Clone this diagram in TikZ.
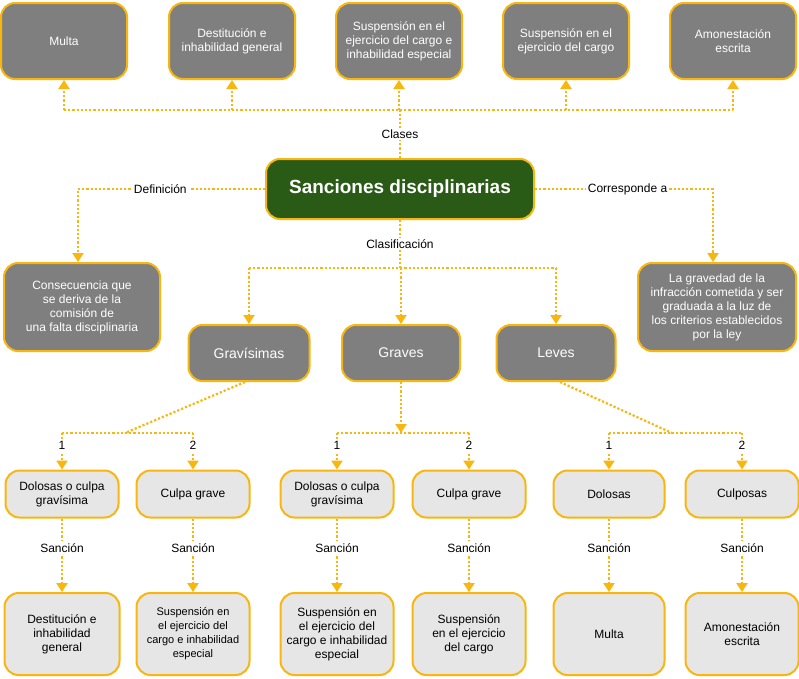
\documentclass[tikz,border=0pt]{standalone}
\usepackage{fontspec}
\setmainfont{Liberation Sans}
\usetikzlibrary{arrows.meta}
\usetikzlibrary{calc}
\definecolor{borde}{HTML}{F8B60E}
\definecolor{gris}{HTML}{7F7F7F}
\definecolor{claro}{HTML}{E6E6E6}
\definecolor{verde}{HTML}{295B17}
\tikzset{
  caja/.style={draw=borde,line width=2pt,rounded corners=14pt,align=center,inner sep=2pt},
  oscura/.style={caja,fill=gris,text=white,font=\fontsize{12}{14}\selectfont},
  clara/.style={caja,fill=claro,text=black,font=\fontsize{12}{14}\selectfont},
  enlace/.style={draw=borde,line width=2.2pt,dotted},
  flecha/.style={enlace,-{Triangle[length=9pt,width=11pt,fill=borde]}},
  etiqueta/.style={fill=white,inner sep=2pt,font=\fontsize{12}{14}\selectfont}
}
\begin{document}
\begin{tikzpicture}[x=1pt,y=-1pt]
    \useasboundingbox (0,0) rectangle (799,678);
    % clases
    \node[oscura,minimum width=126,minimum height=76] (multa) at (64,41) {Multa};
    \node[oscura,minimum width=126,minimum height=76] (destit) at (232,41) {Destitución e\\inhabilidad general};
    \node[oscura,minimum width=126,minimum height=76] (suspesp) at (399,41) {Suspensión en el\\ejercicio del cargo e\\inhabilidad especial};
    \node[oscura,minimum width=126,minimum height=76] (susp) at (566,41) {Suspensión en el\\ejercicio del cargo};
    \node[oscura,minimum width=126,minimum height=76] (amon) at (733,41) {Amonestación\\escrita};

    \node[caja,fill=verde,text=white,font=\fontsize{19}{22}\bfseries,minimum width=268,minimum height=60] (sanc) at (400,189) {Sanciones disciplinarias};

    \node[oscura,minimum width=156,minimum height=88] (conse) at (82,307) {Consecuencia que\\se deriva de la\\comisión de\\una falta disciplinaria};
    \node[oscura,minimum width=158,minimum height=88] (grav) at (717,307) {La gravedad de la\\infracción cometida y ser\\graduada a la luz de\\los criterios establecidos\\por la ley};

    \node[oscura,font=\fontsize{14}{16}\selectfont,minimum width=121,minimum height=56] (gravis) at (249,353) {Gravísimas};
    \node[oscura,font=\fontsize{14}{16}\selectfont,minimum width=118,minimum height=56] (graves) at (401,353) {Graves};
    \node[oscura,font=\fontsize{14}{16}\selectfont,minimum width=119,minimum height=56] (leves) at (556,353) {Leves};

    % nivel 3
    \node[clara,minimum width=113,minimum height=47] (a1) at (62,494) {Dolosas o culpa\\gravísima};
    \node[clara,minimum width=113,minimum height=47] (a2) at (193,494) {Culpa grave};
    \node[clara,minimum width=113,minimum height=47] (b1) at (337,494) {Dolosas o culpa\\gravísima};
    \node[clara,minimum width=113,minimum height=47] (b2) at (469,494) {Culpa grave};
    \node[clara,minimum width=111,minimum height=47] (c1) at (609,494) {Dolosas};
    \node[clara,minimum width=113,minimum height=47] (c2) at (742,494) {Culposas};

    % sanciones
    \node[clara,minimum width=115,minimum height=82] (s1) at (62,634) {Destitución e\\inhabilidad\\general};
    \node[clara,minimum width=113,minimum height=82] (s2) at (193,634) {\fontsize{11}{13}\selectfont Suspensión en\\\fontsize{11}{13}\selectfont el ejercicio del\\\fontsize{11}{13}\selectfont cargo e inhabilidad\\\fontsize{11}{13}\selectfont especial};
    \node[clara,minimum width=113,minimum height=82] (s3) at (337,634) {Suspensión en\\el ejercicio del\\cargo e inhabilidad\\especial};
    \node[clara,minimum width=113,minimum height=82] (s4) at (469,634) {Suspensión\\en el ejercicio\\del cargo};
    \node[clara,minimum width=111,minimum height=82] (s5) at (609,634) {Multa};
    \node[clara,minimum width=113,minimum height=82] (s6) at (742,634) {Amonestación\\escrita};

    % conexiones
    \coordinate (top) at (400,110);
    \draw[enlace] (sanc.north) -- node[etiqueta]{Clases} (top);
    \draw[enlace] (multa.south |- top) -- (amon.south |- top);
    \foreach \n in {multa,destit,suspesp,susp,amon}
        \draw[flecha] (\n.south |- top) -- (\n.south);

    \coordinate (izq) at (78,189);
    \coordinate (der) at (713,189);
    \draw[flecha] (sanc.west) -- node[etiqueta,pos=0.56]{Definición} (izq) -- (conse.north -| izq);
    \draw[flecha] (sanc.east) -- node[etiqueta,pos=0.52]{Corresponde a} (der) -- (grav.north -| der);

    \coordinate (clas) at (400,268);
    \draw[enlace] (sanc.south) -- node[etiqueta]{Clasificación} (clas);
    \draw[enlace] (gravis.north |- clas) -- (leves.north |- clas);
    \foreach \n in {gravis,graves,leves}
        \draw[flecha] (\n.north |- clas) -- (\n.north);

    \coordinate (ra) at (125,433);
    \coordinate (rb) at (401,433);
    \coordinate (rc) at (672,433);
    \draw[enlace] (245,382) -- (ra);
    \draw[flecha] (graves.south) -- (rb);
    \draw[enlace] (560,382) -- (rc);
    \foreach \x/\y in {a1/a2,b1/b2,c1/c2} {
        \draw[enlace] (\x.north |- ra) -- (\y.north |- ra);
        \draw[flecha] (\x.north |- ra) -- node[etiqueta,pos=0.35]{1} (\x.north);
        \draw[flecha] (\y.north |- ra) -- node[etiqueta,pos=0.35]{2} (\y.north);
    }
    \foreach \x/\y in {a1/s1,a2/s2,b1/s3,b2/s4,c1/s5,c2/s6}
        \draw[flecha] (\x.south) -- node[etiqueta,pos=0.4]{Sanción} (\y.north);
\end{tikzpicture}
\end{document}
